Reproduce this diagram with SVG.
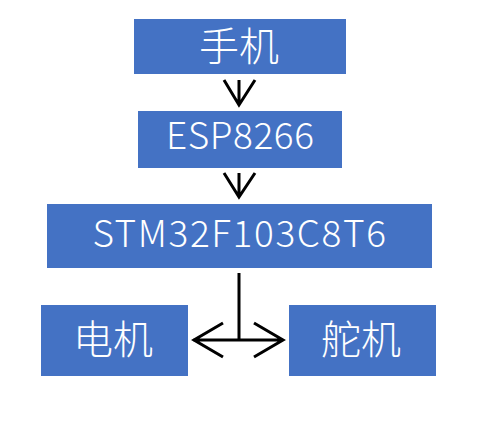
<svg xmlns="http://www.w3.org/2000/svg" width="479" height="422" viewBox="0 0 479 422">
<style>
.box{fill:#4472C4}
.t{fill:#fff;font-family:"Noto Sans CJK SC","Noto Sans",sans-serif;text-anchor:middle;font-weight:300}
.c{stroke:#000;stroke-width:3;fill:none}
</style>
<rect width="479" height="422" fill="#fff"/>
<g id="phone"><rect class="box" x="134" y="19" width="212" height="55"/><text class="t" x="239" y="61" font-size="40">手机</text></g>
<g id="esp"><rect class="box" x="138" y="111" width="204" height="57"/><text class="t" x="240.3" y="149" font-size="37" letter-spacing="0.6">ESP8266</text></g>
<g id="stm"><rect class="box" x="47" y="204" width="385" height="64"/><text class="t" x="240" y="247" font-size="37" letter-spacing="1.6">STM32F103C8T6</text></g>
<g id="motor"><rect class="box" x="41" y="305" width="147" height="71"/><text class="t" x="113" y="354" font-size="40">电机</text></g>
<g id="servo"><rect class="box" x="289" y="305" width="147" height="71"/><text class="t" x="361" y="354" font-size="40">舵机</text></g>
<g id="connectors">
<path class="c" d="M239 80V105M224 80L239 105L255 80"/>
<path class="c" d="M239 173V197M224 173L239 197L255 173"/>
<path class="c" d="M239 273V340M193 340H283M223 323L194 340L223 357M254 323L283 340L254 357"/>
</g>
</svg>
